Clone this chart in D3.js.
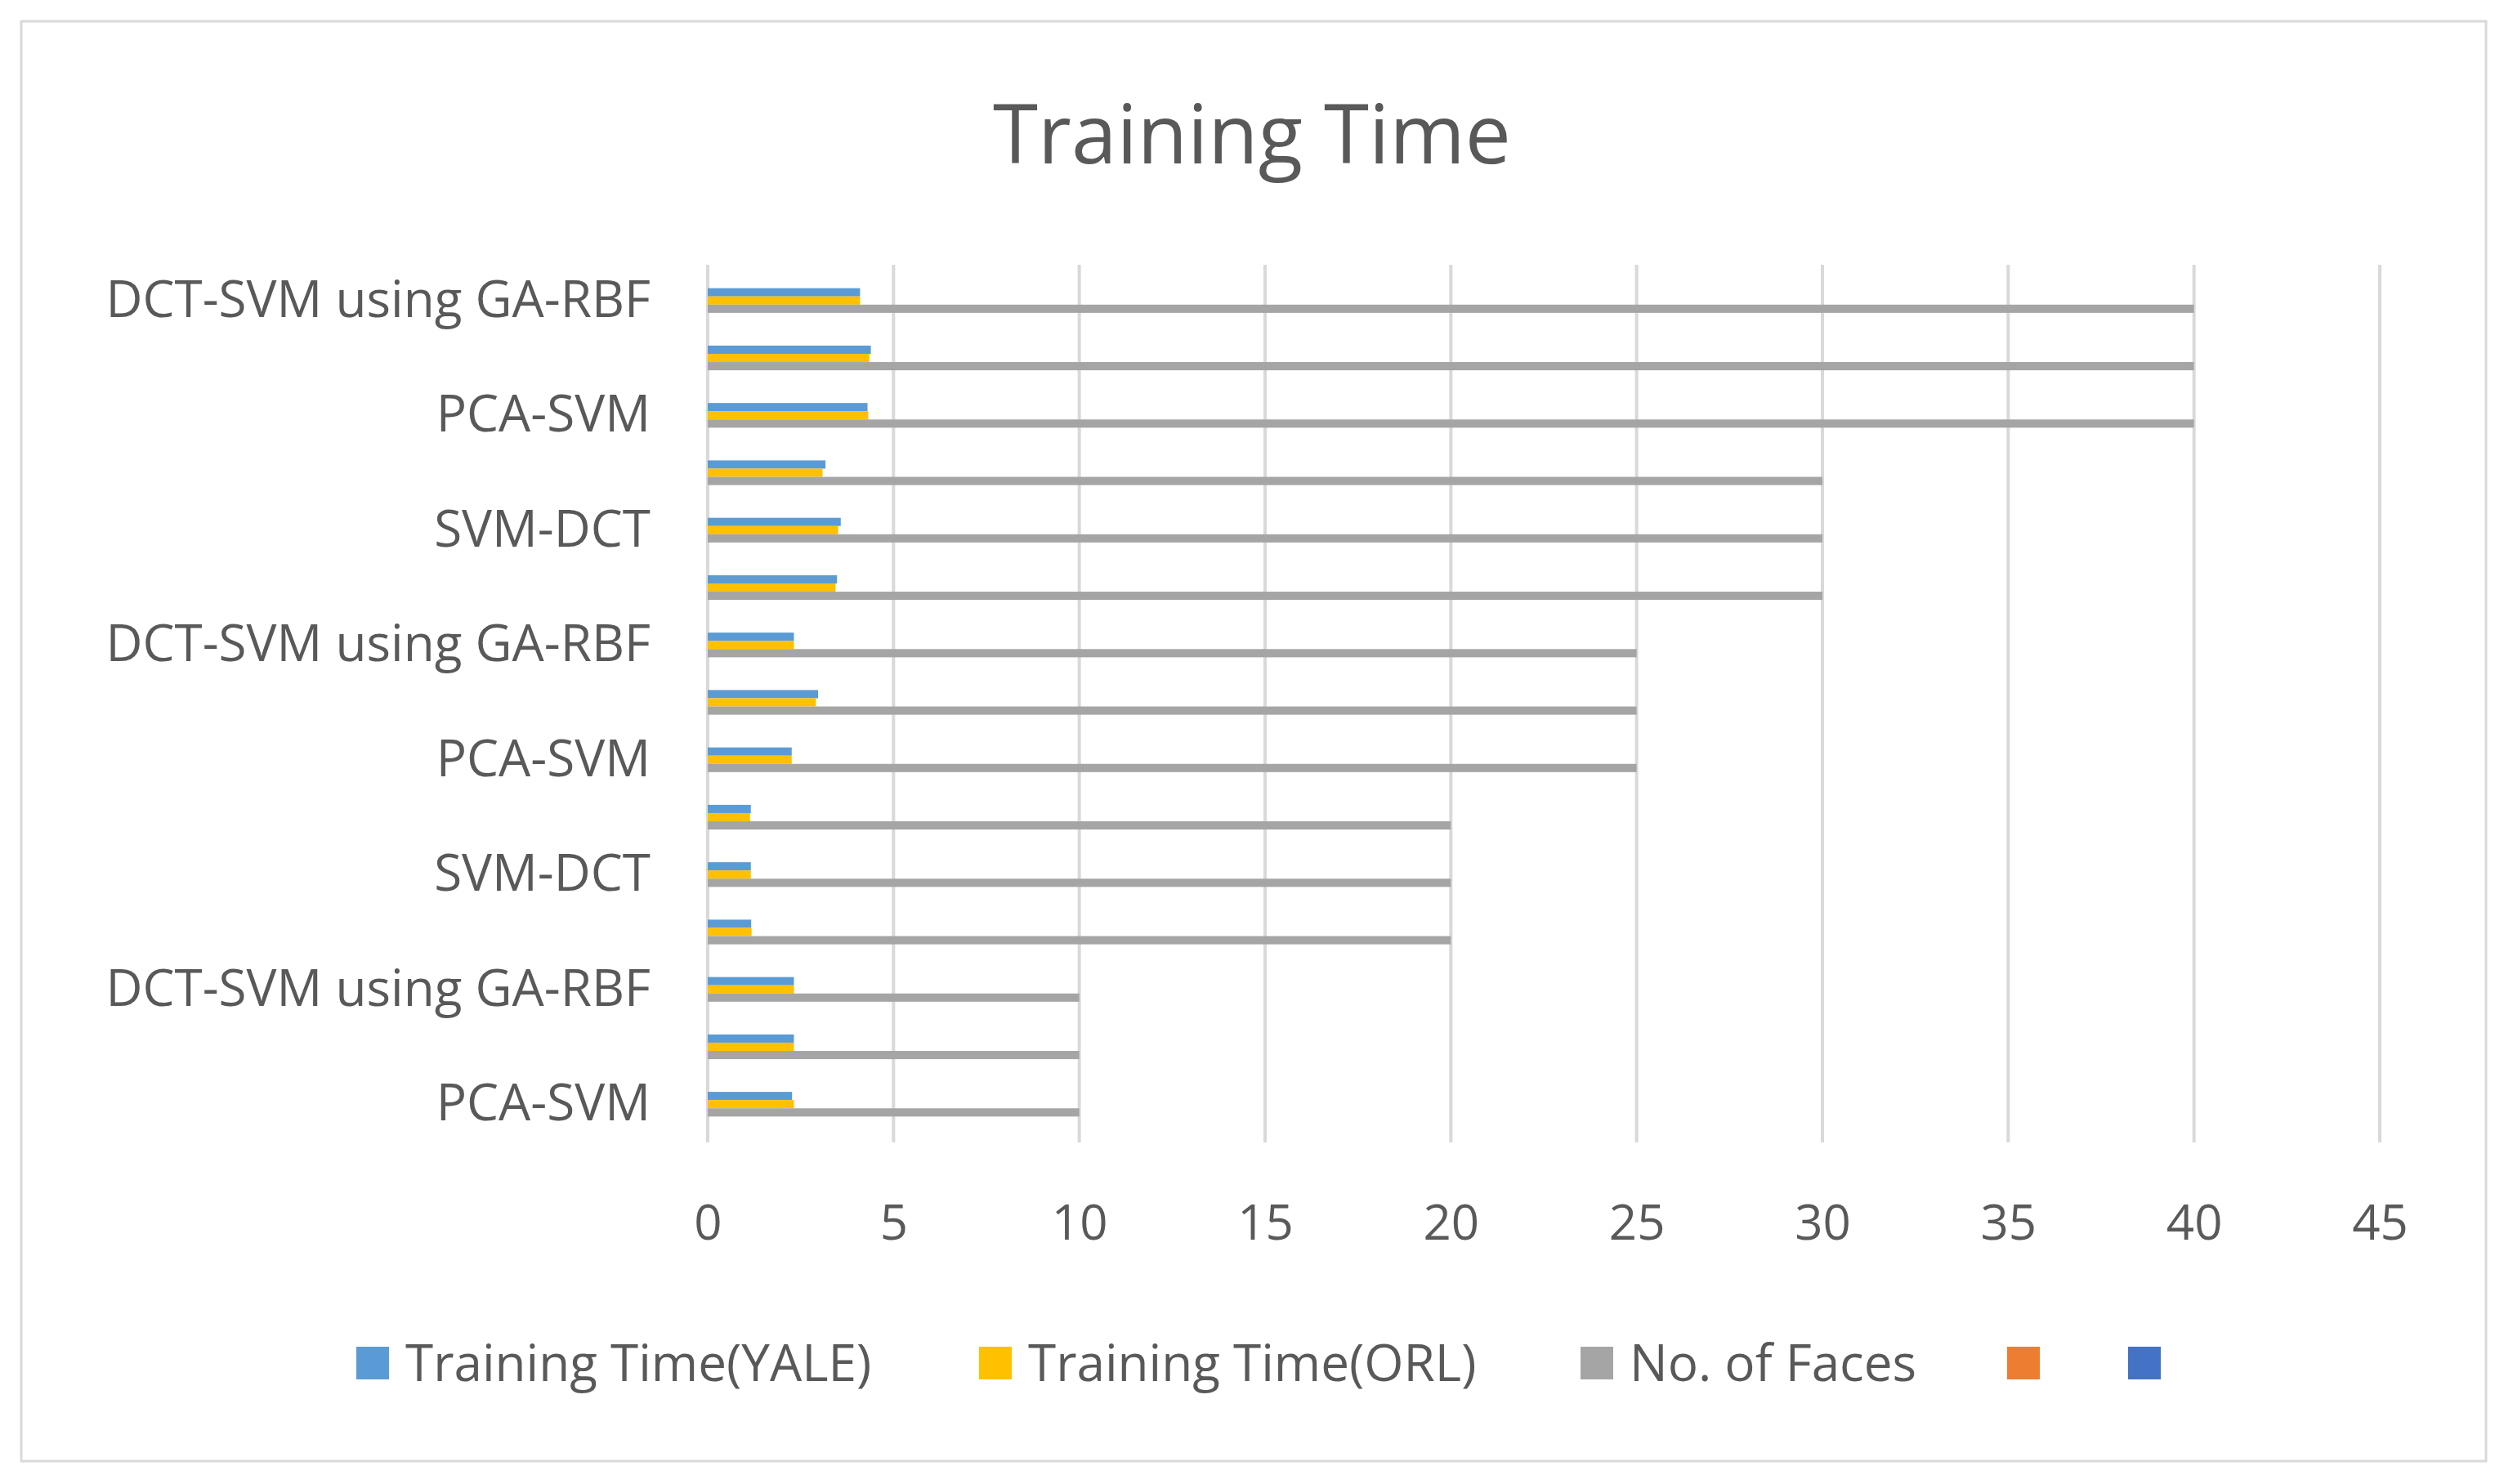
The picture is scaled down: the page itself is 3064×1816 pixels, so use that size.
<!DOCTYPE html>
<html>
<head>
<meta charset="utf-8">
<script src="https://cdn.jsdelivr.net/npm/d3@7"></script>
<style>
  body { margin: 0; background: #fff; }
  text { font-family: "Open Sans", "Liberation Sans", sans-serif; fill: #595959; }
</style>
</head>
<body>
<svg id="chart" width="3064" height="1816"></svg>
<script>
// Categories from bottom to top
var Methods = ["PCA-SVM", "SVM-DCT", "DCT-SVM using GA-RBF",
    "PCA-SVM", "SVM-DCT", "DCT-SVM using GA-RBF",
    "PCA-SVM", "SVM-DCT", "DCT-SVM using GA-RBF",
    "PCA-SVM", "SVM-DCT", "DCT-SVM using GA-RBF",
    "PCA-SVM", "SVM-DCT", "DCT-SVM using GA-RBF"];
var TimeYale = [2.27, 2.32, 2.32, 1.17, 1.16, 1.16, 2.26, 2.97, 2.32, 3.48, 3.58, 3.17, 4.30, 4.39, 4.10];
var TimeOrl = [2.32, 2.32, 2.32, 1.18, 1.16, 1.14, 2.26, 2.91, 2.32, 3.44, 3.51, 3.09, 4.32, 4.35, 4.10];
var Faces = [10, 10, 10, 20, 20, 20, 25, 25, 25, 30, 30, 30, 40, 40, 40];
var SeriesNames = ["Training Time(YALE)", "Training Time(ORL)", "No. of Faces", "", ""];
var SeriesColors = ["#5B9BD5", "#FFC000", "#A5A5A5", "#ED7D31", "#4472C4"];
var XTicks = [0, 5, 10, 15, 20, 25, 30, 35, 40, 45];

var SVG = d3.select("#chart");
// Chart frame
SVG.append("rect").attr("x", 26).attr("y", 26).attr("width", 3016).attr("height", 1762)
    .attr("fill", "#fff").attr("stroke", "#D9D9D9").attr("stroke-width", 3);
// Title
SVG.append("text").attr("x", 1532).attr("y", 200).attr("text-anchor", "middle")
    .attr("font-size", 100).text("Training Time");

// Scales
var X = d3.scaleLinear().domain([0, 45]).range([866, 2912]);
var Keys = Methods.map((M, I) => I);
var Y = d3.scaleBand().domain(Keys.slice().reverse()).range([333, 1386]).paddingInner(0.57).paddingOuter(0.28);
var Sub = d3.scaleBand().domain([0, 1, 2]).range([0, Y.bandwidth()]);

// Gridlines
SVG.append("g").selectAll("line").data(XTicks).join("line")
    .attr("x1", d => X(d)).attr("x2", d => X(d))
    .attr("y1", 324).attr("y2", 1398)
    .attr("stroke", "#D9D9D9").attr("stroke-width", 4);

// Bars
var Series = [TimeYale, TimeOrl, Faces];
Series.forEach((Values, S) => {
    SVG.append("g").selectAll("rect").data(Keys).join("rect")
        .attr("x", X(0))
        .attr("y", I => Y(I) + Sub(S))
        .attr("width", I => X(Values[I]) - X(0))
        .attr("height", Sub.bandwidth())
        .attr("fill", SeriesColors[S]);
});

// X axis labels
var XAxis = SVG.append("g").attr("transform", "translate(0,1398)")
    .call(d3.axisBottom(X).tickValues(XTicks).tickSize(0).tickPadding(76));
XAxis.select(".domain").remove();
XAxis.selectAll("text").attr("font-size", 60).attr("fill", "#595959").attr("font-family", null);

// Y axis labels (every other category shown)
var YAxis = SVG.append("g").attr("transform", "translate(796,0)")
    .call(d3.axisLeft(Y).tickSize(0).tickPadding(0).tickFormat(I => I % 2 === 0 ? Methods[I] : ""));
YAxis.select(".domain").remove();
YAxis.selectAll("text").attr("font-size", 62).attr("fill", "#595959").attr("font-family", null);

// Legend
var LegendX = [436, 1198, 1934, 2456, 2604];
SeriesNames.forEach((Name, S) => {
    var G = SVG.append("g").attr("transform", `translate(${LegendX[S]},1668)`);
    G.append("rect").attr("x", 0).attr("y", -20).attr("width", 40).attr("height", 40).attr("fill", SeriesColors[S]);
    G.append("text").attr("x", 60).attr("y", 0).attr("dy", "0.35em").attr("font-size", 62).text(Name);
});
</script>
</body>
</html>
